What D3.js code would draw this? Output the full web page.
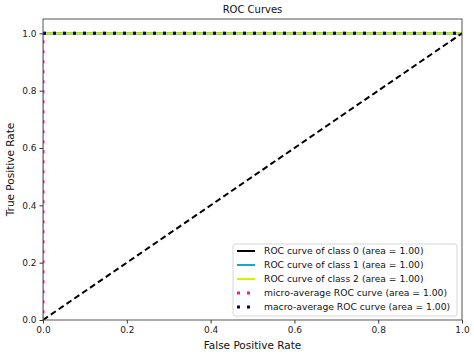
<!DOCTYPE html>
<html><head><meta charset="utf-8">
<script src="https://cdn.jsdelivr.net/npm/d3@7"></script>
<style>body{margin:0;background:#fff}svg{display:block}text{font-family:"DejaVu Sans",sans-serif}</style>
</head><body>
<script>
const classCurves = [
  {name:"ROC curve of class 0 (area = 1.00)", color:"#000000", fpr:[0,0,1], tpr:[0,1,1]},
  {name:"ROC curve of class 1 (area = 1.00)", color:"#12a9cc", fpr:[0,0,1], tpr:[0,1,1]},
  {name:"ROC curve of class 2 (area = 1.00)", color:"#d6f000", fpr:[0,0,1], tpr:[0,1,1]}
];
const microCurve = {name:"micro-average ROC curve (area = 1.00)", color:"deeppink", fpr:[0,0,1], tpr:[0,1,1]};
const macroCurve = {name:"macro-average ROC curve (area = 1.00)", color:"navy", fpr:[0,1], tpr:[1,1]};
const diagonal = [[0,0],[1,1]];
const xTicks = [0,0.2,0.4,0.6,0.8,1.0];
const yTicks = [0,0.2,0.4,0.6,0.8,1.0];

const W=474,H=355, L=43, R=462, T=19, B=320;
const svg=d3.select("body").append("svg").attr("width",W).attr("height",H);
const x=d3.scaleLinear().domain([0,1]).range([L,R]);
const y=d3.scaleLinear().domain([0,1.05]).range([B,T]);

svg.append("defs").append("clipPath").attr("id","clip").append("rect")
  .attr("x",L).attr("y",T).attr("width",R-L).attr("height",B-T);
const g=svg.append("g").attr("clip-path","url(#clip)");
const line=d3.line().x(d=>x(d[0])).y(d=>y(d[1]));
const pts=c=>c.fpr.map((f,i)=>[f,c.tpr[i]]);
const period=10;

classCurves.forEach(c=>{
  g.append("path").attr("d",line(pts(c))).attr("fill","none").attr("stroke",c.color).attr("stroke-width",2);
});
const vlen=y(0)-y(1);
g.append("path").attr("d",line(pts(microCurve))).attr("fill","none").attr("stroke",microCurve.color)
  .attr("stroke-width",3).attr("stroke-dasharray","3,7").attr("stroke-dashoffset",(period-(vlen%period))%period);
g.append("path").attr("d",line(pts(macroCurve))).attr("fill","none").attr("stroke",macroCurve.color)
  .attr("stroke-width",3).attr("stroke-dasharray","3,7");
g.append("path").attr("d",line(diagonal)).attr("fill","none").attr("stroke","#000")
  .attr("stroke-width",2).attr("stroke-dasharray","6,3.5");

// axes
const xa=svg.append("g").attr("transform",`translate(0,${B})`)
  .call(d3.axisBottom(x).tickValues(xTicks).tickFormat(d3.format(".1f")).tickSize(3.5).tickPadding(3));
const ya=svg.append("g").attr("transform",`translate(${L},0)`)
  .call(d3.axisLeft(y).tickValues(yTicks).tickFormat(d3.format(".1f")).tickSize(3.5).tickPadding(3));
[xa,ya].forEach(a=>{a.select(".domain").remove();
  a.selectAll("text").attr("font-size",9).attr("font-family","DejaVu Sans").attr("fill","#222");
  a.selectAll("line").attr("stroke","#333");});
svg.append("rect").attr("x",L).attr("y",T).attr("width",R-L).attr("height",B-T)
  .attr("fill","none").attr("stroke","#444").attr("stroke-width",0.9);

svg.append("text").attr("x",(L+R)/2).attr("y",13).attr("text-anchor","middle").attr("font-size",10).attr("fill","#111").text("ROC Curves");
svg.append("text").attr("x",(L+R)/2).attr("y",349).attr("text-anchor","middle").attr("font-size",10.5).attr("fill","#111").text("False Positive Rate");
svg.append("text").attr("transform",`translate(14,${(T+B)/2}) rotate(-90)`).attr("text-anchor","middle").attr("font-size",10.5).attr("fill","#111").text("True Positive Rate");

// legend
const leg=svg.append("g");
leg.append("rect").attr("x",233).attr("y",244).attr("width",224).attr("height",72).attr("rx",2.5)
  .attr("fill","#fff").attr("fill-opacity",0.85).attr("stroke","#ccc").attr("stroke-width",0.8);
const items=[...classCurves.map(c=>({...c,dot:false})),{...microCurve,dot:true},{...macroCurve,dot:true}];
items.forEach((c,i)=>{
  const yy=251+i*14;
  leg.append("line").attr("x1",237).attr("x2",255).attr("y1",yy).attr("y2",yy).attr("stroke",c.color)
    .attr("stroke-width",c.dot?3:2).attr("stroke-dasharray",c.dot?"3,7":null);
  leg.append("text").attr("x",264).attr("y",yy+3.3).attr("font-size",9.2).attr("fill","#111").text(c.name);
});
</script>
</body></html>
